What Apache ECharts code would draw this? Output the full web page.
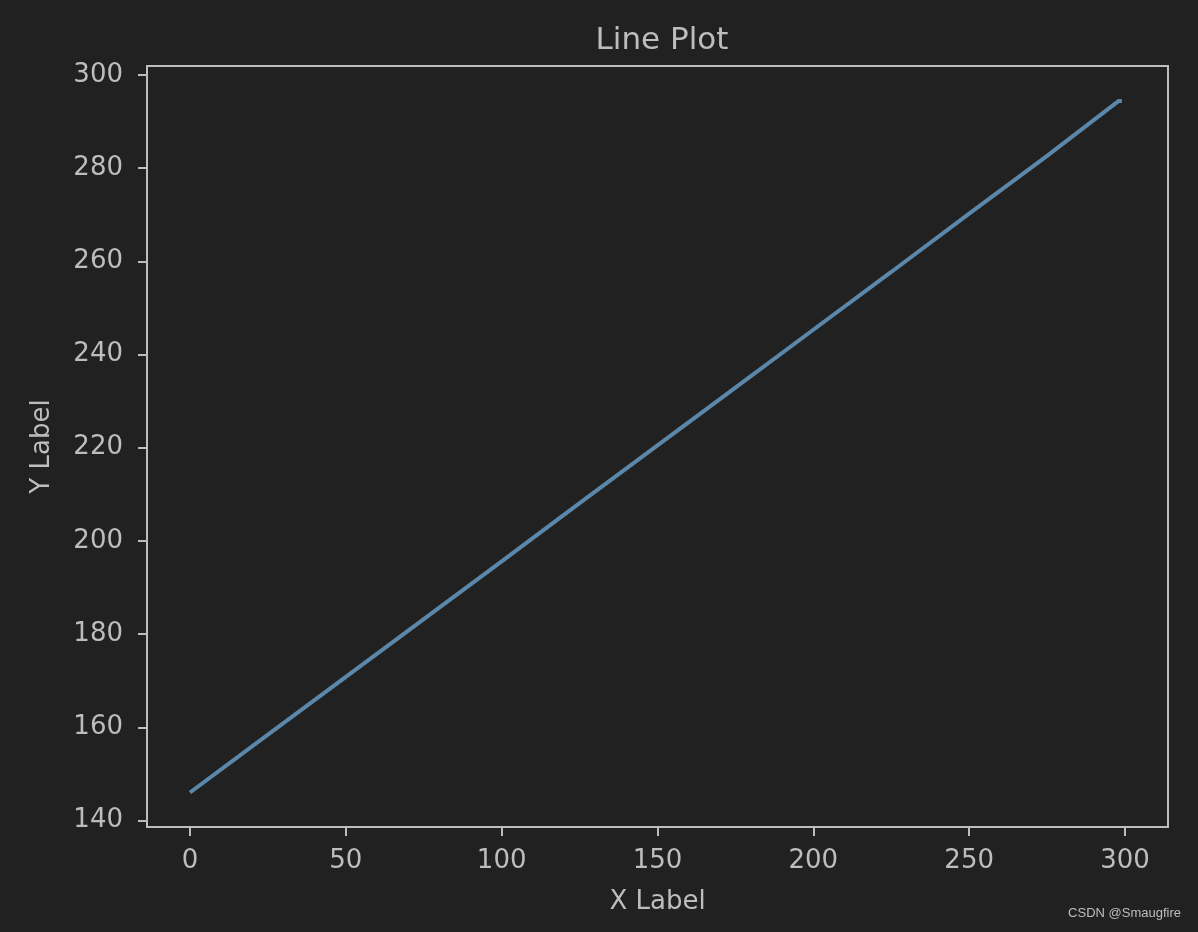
<!DOCTYPE html>
<html>
<head>
<meta charset="utf-8">
<script src="https://cdn.jsdelivr.net/npm/echarts@6/dist/echarts.min.js"></script>
<style>
html,body{margin:0;padding:0;background:#212121;}
#c{width:1198px;height:932px;}
</style>
</head>
<body>
<div id="c"></div>
<script>
const xValues = [0, 25, 50, 75, 100, 125, 150, 175, 200, 225, 250, 275, 298, 299];
const yValues = [146.0, 158.4, 170.8, 183.2, 195.6, 208.1, 220.5, 232.9, 245.3, 257.7, 270.2, 282.6, 294.4, 294.4];
const xTicks = [0, 50, 100, 150, 200, 250, 300];
const yTicks = [140, 160, 180, 200, 220, 240, 260, 280, 300];

const fg = '#bdbdbd';
const font = 'DejaVu Sans';
const chart = echarts.init(document.getElementById('c'), null, {renderer: 'canvas'});
chart.setOption({
  backgroundColor: '#212121',
  animation: false,
  title: {
    text: 'Line Plot', left: 657, top: 20, textAlign: 'center',
    textStyle: {color: fg, fontFamily: font, fontSize: 31, fontWeight: 'normal'}
  },
  grid: {left: 147, right: 30, top: 66, bottom: 105, show: true, borderColor: fg, borderWidth: 2, backgroundColor: 'transparent'},
  xAxis: {
    type: 'value', min: -13.8, max: 313.8, interval: 50,
    name: 'X Label', nameLocation: 'middle', nameGap: 62,
    nameTextStyle: {color: fg, fontFamily: font, fontSize: 26},
    axisLine: {show: true, onZero: false, lineStyle: {color: fg, width: 2}},
    axisTick: {show: true, inside: false, length: 9, lineStyle: {color: fg, width: 2}, customValues: xTicks},
    axisLabel: {color: fg, fontFamily: font, fontSize: 26, margin: 21, customValues: xTicks},
    splitLine: {show: false}
  },
  yAxis: {
    type: 'value', min: 138.6, max: 301.9, interval: 20,
    name: 'Y Label', nameLocation: 'middle', nameGap: 92, nameRotate: 90,
    nameTextStyle: {color: fg, fontFamily: font, fontSize: 26},
    axisLine: {show: true, onZero: false, lineStyle: {color: fg, width: 2}},
    axisTick: {show: true, inside: false, length: 9, lineStyle: {color: fg, width: 2}, customValues: yTicks},
    axisLabel: {color: fg, fontFamily: font, fontSize: 26, margin: 24, customValues: yTicks},
    splitLine: {show: false}
  },
  graphic: [{
    type: 'text', right: 17, top: 907,
    style: {text: 'CSDN @Smaugfire', fill: '#bdbdbd', font: '13px "Liberation Sans", Arial, sans-serif'}
  }],
  series: [{
    type: 'line', showSymbol: false, symbol: 'none',
    data: xValues.map((x, i) => [x, yValues[i]]),
    lineStyle: {color: '#5b88aa', width: 4, cap: 'butt'}
  }]
});
</script>
</body>
</html>
